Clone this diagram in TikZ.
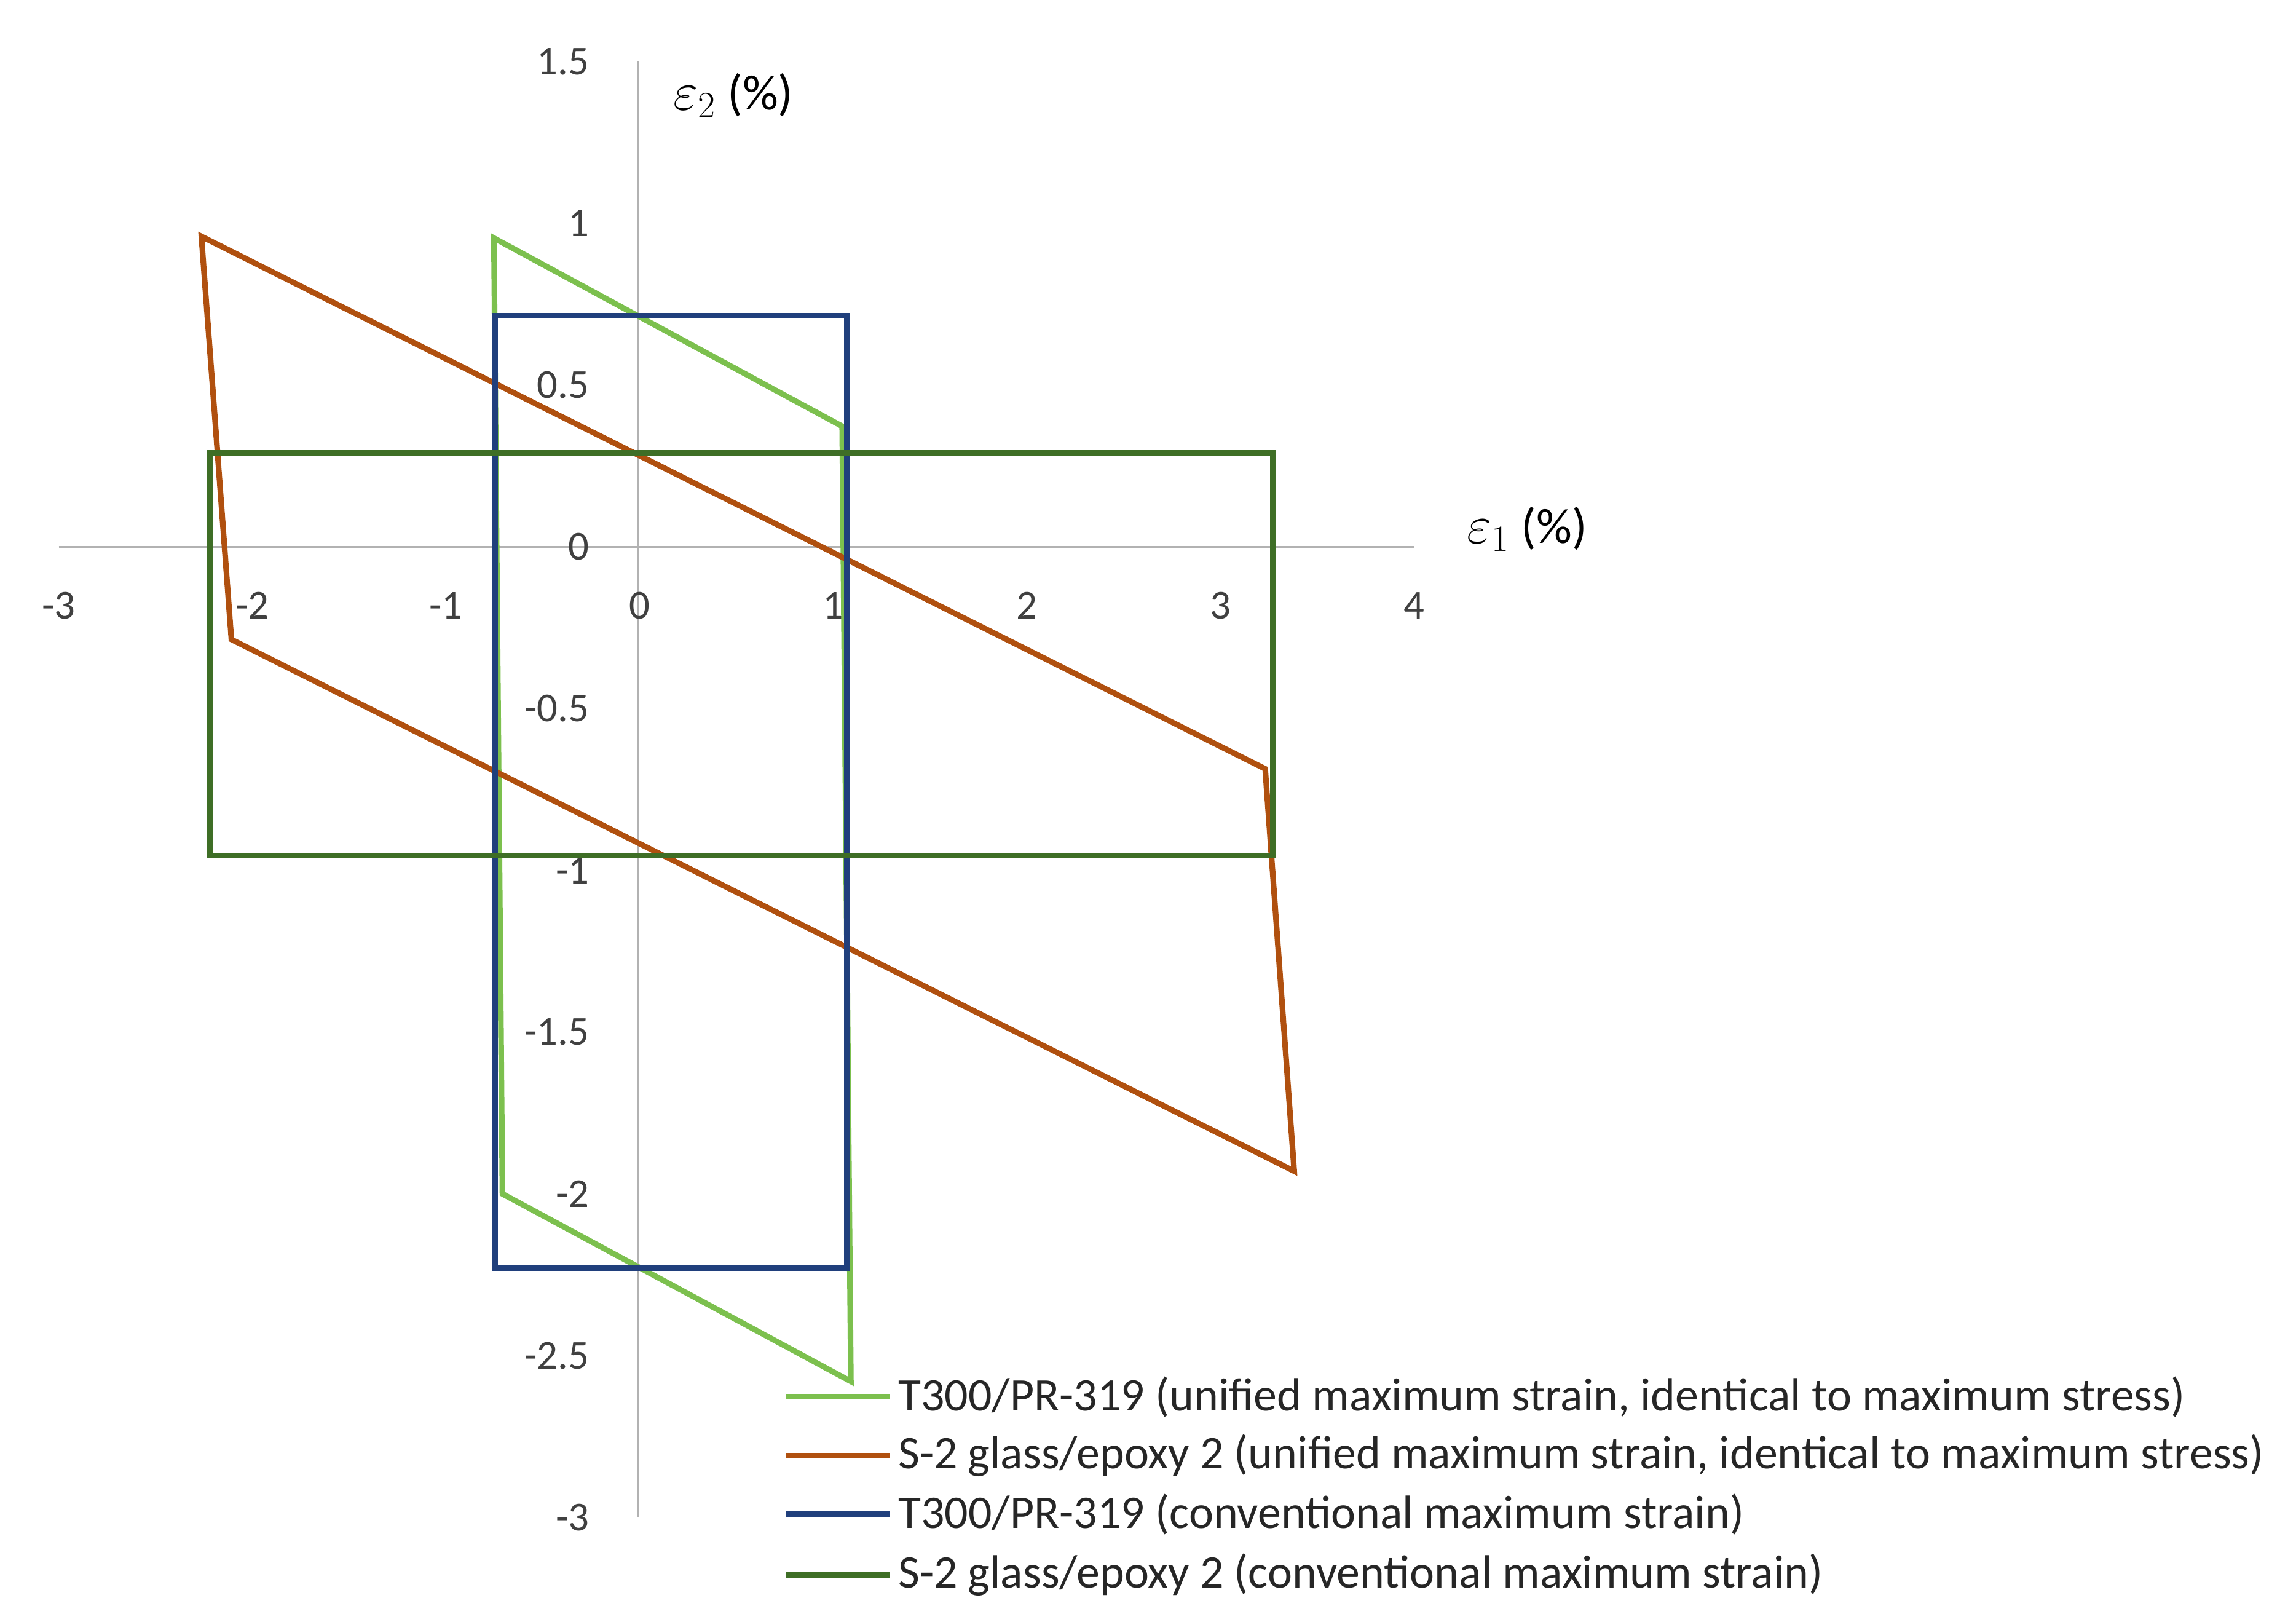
\documentclass[tikz,border=0pt]{standalone}
\usepackage{fontspec}
\setmainfont{Carlito}
\begin{document}
\begin{tikzpicture}[x=0.02391cm,y=-0.02391cm,
  tick/.style={font=\fontsize{19}{22}\selectfont,text=black!75},
  leg/.style={font=\fontsize{21.6}{25}\selectfont,text=black!85,anchor=west},
  curve/.style={line width=2.6pt,line join=miter}]
\definecolor{lg}{HTML}{7CC04E}
\definecolor{br}{HTML}{B0500F}
\definecolor{bl}{HTML}{203F7C}
\definecolor{dg}{HTML}{3E6E26}
\useasboundingbox (0,0) rectangle (1562,1103);
\coordinate (xl) at (40,372); \coordinate (xr) at (962,372);
\coordinate (yt) at (434,42); \coordinate (yb) at (434,1032);
\draw[black!30,line width=1pt] (xl) -- (xr);
\draw[black!30,line width=1pt] (yt) -- (yb);
\foreach \v [count=\i from 0] in {-3,-2,-1,0,1,2,3,4}
  \node[tick] (tx\i) at (40+131.7*\i,412) {\v};
\foreach \v/\p in {1.5/42,1/152,0.5/262,0/372,-0.5/482,-1/592,-1.5/702,-2/812,-2.5/922,-3/1032}
  \node[tick,anchor=east] (ty\p) at (406,\p) {\v};
\node[font=\fontsize{23}{26}\selectfont,anchor=west] (ax1) at (993,360) {$\varepsilon_1$ (\%)};
\node[font=\fontsize{23}{26}\selectfont,anchor=west] (ax2) at (453,65) {$\varepsilon_2$ (\%)};
\begin{scope}[shift={(434,372)},x=3.149cm,y=5.260cm]
 \draw[curve,lg] (-0.744,0.955) -- (1.055,0.373) -- (1.10,-2.58) -- (-0.70,-2.0) -- cycle;
 \draw[curve,br] (-2.255,0.96) -- (3.24,-0.686) -- (3.39,-1.93) -- (-2.10,-0.286) -- cycle;
 \draw[curve,bl] (-0.737,0.714) rectangle (1.078,-2.23);
 \draw[curve,dg] (-2.21,0.29) rectangle (3.28,-0.955);
\end{scope}
\foreach \c/\y/\t in {lg/950/{T300/PR-319 (unified maximum strain, identical to maximum stress)},
  br/990/{S-2 glass/epoxy 2 (unified maximum strain, identical to maximum stress)},
  bl/1030/{T300/PR-319 (conventional maximum strain)},
  dg/1071/{S-2 glass/epoxy 2 (conventional maximum strain)}}{
  \coordinate (a\y) at (535,\y); \coordinate (b\y) at (605,\y);
  \draw[curve,\c] (a\y) -- (b\y);
  \node[leg] (l\y) at (606,\y) {\t};}
\end{tikzpicture}
\end{document}
